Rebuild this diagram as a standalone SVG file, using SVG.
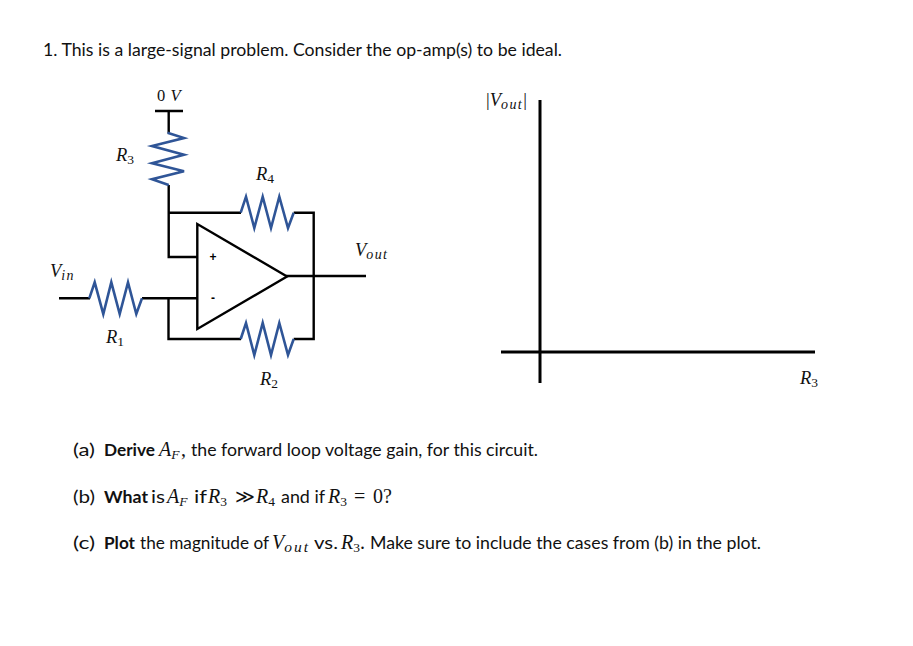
<svg xmlns="http://www.w3.org/2000/svg" width="913" height="646" viewBox="0 0 913 646">
<style>
.w{fill:none;stroke:#000;stroke-width:2.4;stroke-linecap:butt}
.p{fill:none;stroke:#000;stroke-width:3}
.r{fill:none;stroke:#2f5597;stroke-width:2.6}
.t{font-family:"Lato","Carlito","Liberation Sans",sans-serif;font-size:17.5px;fill:#111}
.b{font-weight:700}
.m{font-family:"Liberation Serif","DejaVu Serif",serif;font-size:18.5px;fill:#111}
.n{font-size:20px}
.i{font-style:italic}
.s{font-size:13.5px}
.o{font-size:14px;letter-spacing:1.4px}
.n .o{font-size:15.5px;letter-spacing:2px}
</style>
<rect width="913" height="646" fill="#fff"/>
<g id="connectors">
<path class="w" d="M155 111H183M168.7 111V133M168.7 185V257H197M168.7 212.7H241M293.7 212.7H313.7V339H293.7M241 339H168.5V298.3M59 298.3H90M142 298.3H197M286 276H366"/>
<path class="p" d="M501 352H815M540 100V383"/>
</g>
<g id="opamp"><path class="w" d="M197.3 224V329L287 276.5Z"/>
<text x="213" y="261" text-anchor="middle" style="font-family:'Liberation Sans',sans-serif;font-size:12px;font-weight:700">+</text>
<text x="213" y="302" text-anchor="middle" style="font-family:'Liberation Sans',sans-serif;font-size:12px;font-weight:700">-</text></g>
<g id="R3"><path class="r" d="M167.5 132.7L184 138L152 146L184 154.7L152 163.3L184 171.3L152 179.3L168.7 185"/>
<text class="m" x="116" y="161"><tspan class="i">R</tspan><tspan class="s" dy="3">3</tspan></text></g>
<g id="R4"><path class="r" d="M240.7 212.7L246 196.7L254.3 228L262.7 196.7L271 228L279.3 196.7L288 228L293.7 212.7"/>
<text class="m" x="256" y="180"><tspan class="i">R</tspan><tspan class="s" dy="3">4</tspan></text></g>
<g id="R2"><path class="r" d="M240.7 339L246 323L254.3 355L262.7 323L271 355L279.3 323L288 355L293.7 339"/>
<text class="m" x="260" y="385"><tspan class="i">R</tspan><tspan class="s" dy="3">2</tspan></text></g>
<g id="R1"><path class="r" d="M89.3 298.3L94.7 282.3L103.3 314L111.3 282.3L119.7 314L128 282.3L136.3 314L142 298.3"/>
<text class="m" x="106" y="343"><tspan class="i">R</tspan><tspan class="s" dy="3">1</tspan></text></g>
<g id="labels">
<text class="m" x="157" y="101" style="font-size:16.5px;letter-spacing:.6px">0 <tspan class="i">V</tspan></text>
<text class="m i" x="50" y="277">V<tspan class="o" dy="3">in</tspan></text>
<text class="m i" x="355" y="256">V<tspan class="o" dy="3">out</tspan></text>
<text class="m" x="486" y="106">|<tspan class="i">V</tspan><tspan class="o i" dy="3">out</tspan><tspan dy="-3">|</tspan></text>
<text class="m" x="800" y="384"><tspan class="i">R</tspan><tspan class="s" dy="3">3</tspan></text>
<text class="t" x="43" y="56" textLength="519" lengthAdjust="spacingAndGlyphs">1. This is a large-signal problem. Consider the op-amp(s) to be ideal.</text>
<text class="t" x="73" y="456" textLength="22" lengthAdjust="spacingAndGlyphs">(a)</text>
<text class="t b" x="104" y="456" textLength="51" lengthAdjust="spacingAndGlyphs">Derive</text>
<text class="m n i" x="159" y="456">A<tspan class="s" dy="3">F</tspan></text>
<text class="m n" x="181" y="456">,</text>
<text class="t" x="191" y="456" textLength="347" lengthAdjust="spacingAndGlyphs">the forward loop voltage gain, for this circuit.</text>
<text class="t" x="73" y="503" textLength="22" lengthAdjust="spacingAndGlyphs">(b)</text>
<text class="t b" x="104" y="503" textLength="44" lengthAdjust="spacingAndGlyphs">What</text>
<text class="t" x="151" y="503" textLength="14" lengthAdjust="spacingAndGlyphs">is</text>
<text class="m n i" x="167" y="503">A<tspan class="s" dy="3">F</tspan></text>
<text class="t" x="194" y="503" textLength="13" lengthAdjust="spacingAndGlyphs">if</text>
<text class="m n" x="208" y="503"><tspan class="i">R</tspan><tspan class="s" dy="3">3</tspan></text>
<text class="m" x="235" y="503">≫</text>
<text class="m n" x="256" y="503"><tspan class="i">R</tspan><tspan class="s" dy="3">4</tspan></text>
<text class="t" x="281" y="503" textLength="44" lengthAdjust="spacingAndGlyphs">and if</text>
<text class="m n" x="328" y="503"><tspan class="i">R</tspan><tspan class="s" dy="3">3</tspan></text>
<text class="m n" x="354" y="503">=</text>
<text class="m n" x="373" y="503">0?</text>
<text class="t" x="73" y="549" textLength="22" lengthAdjust="spacingAndGlyphs">(c)</text>
<text class="t b" x="104" y="549" textLength="31" lengthAdjust="spacingAndGlyphs">Plot</text>
<text class="t" x="140" y="549" textLength="129" lengthAdjust="spacingAndGlyphs">the magnitude of</text>
<text class="m n i" x="272" y="549">V<tspan class="o" dy="3">out</tspan></text>
<text class="t" x="314" y="549" textLength="24" lengthAdjust="spacingAndGlyphs">vs.</text>
<text class="m n" x="341" y="549"><tspan class="i">R</tspan><tspan class="s" dy="3">3</tspan><tspan dy="-3">.</tspan></text>
<text class="t" x="370" y="549" textLength="391" lengthAdjust="spacingAndGlyphs">Make sure to include the cases from (b) in the plot.</text>
</g>
</svg>
